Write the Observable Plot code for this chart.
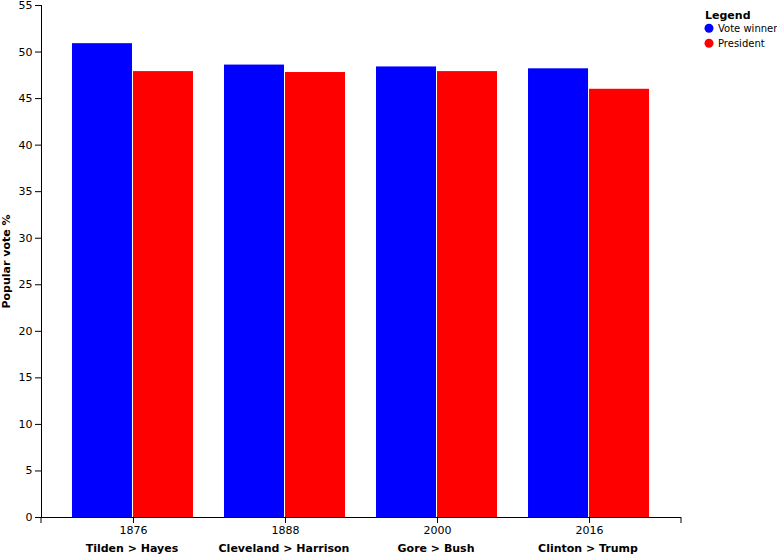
<!DOCTYPE html>
<html>
<head>
<meta charset="utf-8">
<script src="https://cdn.jsdelivr.net/npm/d3@7"></script>
<script src="https://cdn.jsdelivr.net/npm/@observablehq/plot@0.6"></script>
<style>
  body { margin: 0; background: #fff; font-family: "DejaVu Sans", sans-serif; }
  #wrap { position: relative; width: 777px; height: 554px; }
  #legend { position: absolute; left: 0; top: 0; }
</style>
</head>
<body>
<div id="wrap"></div>
<script>
const years = ["1876", "1888", "2000", "2016"];
const matchups = ["Tilden > Hayes", "Cleveland > Harrison", "Gore > Bush", "Clinton > Trump"];
const voteWinner = [50.9, 48.6, 48.4, 48.2];
const president = [47.9, 47.8, 47.9, 46.0];
const seriesNames = ["Vote winner", "President"];
const seriesColors = ["#0000ff", "#ff0000"];
const yTicks = [0, 5, 10, 15, 20, 25, 30, 35, 40, 45, 50, 55];

const data = years.map((y, i) => ({year: y, matchup: matchups[i], winner: voteWinner[i], president: president[i]}));

const W = 777, H = 554, mL = 41, mR = 96, mT = 5, mB = 37, pi = 0.204, po = 0.207;
const step = (W - mL - mR) / (years.length - pi + 2 * po);
const bw = step * (1 - pi);
const half = bw / 2;

const chart = Plot.plot({
  width: W, height: H,
  marginLeft: mL, marginRight: mR, marginTop: mT, marginBottom: mB,
  style: {fontFamily: "DejaVu Sans", fontSize: "11px", color: "#000", background: "#fff"},
  x: {domain: years, paddingInner: pi, paddingOuter: po, round: false, axis: null},
  y: {domain: [0, 55], axis: null},
  marks: [
    Plot.barY(data, {x: "year", y: "winner", fill: seriesColors[0], insetRight: half + 0.5, dx: -0.5}),
    Plot.barY(data, {x: "year", y: "president", fill: seriesColors[1], insetLeft: half + 0.5, dx: -0.5}),
    Plot.axisY({ticks: yTicks, tickSize: 6, tickPadding: 3, label: null, fontSize: 11, stroke: "#000"}),
    Plot.frame({anchor: "left", stroke: "#000"}),
    Plot.ruleY([0], {stroke: "#000"}),
    Plot.axisX({tickSize: 6, tickPadding: 3, label: null, fontSize: 11, stroke: "#000"}),
    Plot.text(data, {x: "year", text: "matchup", frameAnchor: "bottom", dy: 31, dx: -1.5, fontWeight: "bold", fontSize: 11, lineAnchor: "middle"}),
    Plot.text(["Popular vote %"], {frameAnchor: "left", dx: -35, rotate: -90, textAnchor: "middle", fontWeight: "bold", fontSize: 11, lineAnchor: "middle"})
  ]
});

document.getElementById("wrap").appendChild(chart);

// outer ticks at the ends of the x axis
const svg = d3.select(chart.tagName === "svg" ? chart : chart.querySelector("svg"));
const xr = chart.scale("x").range;
const y0 = chart.scale("y").apply(0);
svg.append("g").selectAll("line").data(xr).join("line")
  .attr("x1", d => d).attr("x2", d => d)
  .attr("y1", y0).attr("y2", y0 + 6)
  .attr("stroke", "#000");

// legend
const lg = d3.select("#wrap").append("svg").attr("id", "legend")
  .attr("width", W).attr("height", 60)
  .style("pointer-events", "none");
lg.append("text").attr("x", 705).attr("y", 19)
  .attr("font-family", "DejaVu Sans").attr("font-size", 11).attr("font-weight", "bold")
  .text("Legend");
const items = lg.selectAll("g.item").data(seriesNames).join("g").attr("class", "item")
  .attr("transform", (d, i) => `translate(0, ${28.3 + i * 15})`);
items.append("circle").attr("cx", 709).attr("cy", 0).attr("r", 4.5)
  .attr("fill", (d, i) => seriesColors[i]);
items.append("text").attr("x", 718).attr("y", 0).attr("dy", "0.35em")
  .attr("font-family", "DejaVu Sans").attr("font-size", 10)
  .text(d => d);
</script>
</body>
</html>
